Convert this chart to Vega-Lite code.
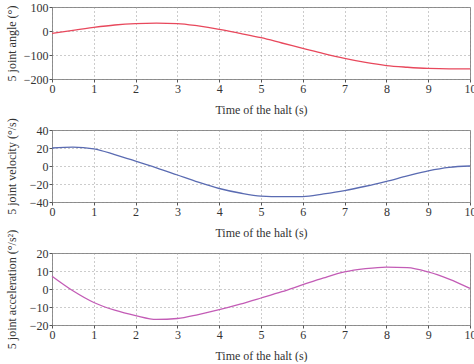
{
  "$schema": "https://vega.github.io/schema/vega-lite/v6.json",
  "padding": {"top": 0, "left": 4, "right": 0, "bottom": 0},
  "background": "white",
  "data": {"values": [
    {"t": 0, "angle": -10, "vel": 20, "acc": 7.1},
    {"t": 0.5, "angle": 3, "vel": 21, "acc": -1},
    {"t": 1, "angle": 15, "vel": 19, "acc": -7.5},
    {"t": 1.5, "angle": 25, "vel": 12.7, "acc": -11.8},
    {"t": 2, "angle": 31, "vel": 5.5, "acc": -14.8},
    {"t": 2.5, "angle": 33, "vel": -2, "acc": -16.9},
    {"t": 3, "angle": 31, "vel": -10, "acc": -16.4},
    {"t": 3.5, "angle": 21, "vel": -18, "acc": -14.2},
    {"t": 4, "angle": 7, "vel": -25, "acc": -11.5},
    {"t": 4.5, "angle": -10, "vel": -30, "acc": -8.4},
    {"t": 5, "angle": -28, "vel": -33.4, "acc": -5},
    {"t": 5.5, "angle": -50, "vel": -34, "acc": -1.5},
    {"t": 6, "angle": -72, "vel": -34, "acc": 2.4},
    {"t": 6.5, "angle": -94, "vel": -31, "acc": 6.2},
    {"t": 7, "angle": -114, "vel": -27.3, "acc": 9.5},
    {"t": 7.5, "angle": -131, "vel": -22.5, "acc": 11.3},
    {"t": 8, "angle": -144, "vel": -17, "acc": 12.2},
    {"t": 8.5, "angle": -151, "vel": -11, "acc": 11.9},
    {"t": 9, "angle": -156, "vel": -5.4, "acc": 9.5},
    {"t": 9.5, "angle": -158, "vel": -1.5, "acc": 5.5},
    {"t": 10, "angle": -158, "vel": 0, "acc": 0.3}
  ]},
  "spacing": 51,
  "bounds": "flush",
  "vconcat": [
    {
      "width": 418, "height": 72,
      "mark": {"type": "line", "color": "#e8485c", "strokeWidth": 1.3, "interpolate": "monotone"},
      "encoding": {
        "x": {"field": "t", "type": "quantitative", "scale": {"domain": [0, 10], "nice": false}, "axis": {"values": [0,1,2,3,4,5,6,7,8,9,10], "title": "Time of the halt (s)"}},
        "y": {"field": "angle", "type": "quantitative", "scale": {"domain": [-200, 100], "nice": false}, "axis": {"values": [-200, -100, 0, 100], "title": "5 joint angle (°)"}}
      }
    },
    {
      "width": 418, "height": 72,
      "mark": {"type": "line", "color": "#5a6bb2", "strokeWidth": 1.3, "interpolate": "monotone"},
      "encoding": {
        "x": {"field": "t", "type": "quantitative", "scale": {"domain": [0, 10], "nice": false}, "axis": {"values": [0,1,2,3,4,5,6,7,8,9,10], "title": "Time of the halt (s)"}},
        "y": {"field": "vel", "type": "quantitative", "scale": {"domain": [-40, 40], "nice": false}, "axis": {"values": [-40, -20, 0, 20, 40], "title": "5 joint velocity (°/s)"}}
      }
    },
    {
      "width": 418, "height": 72,
      "mark": {"type": "line", "color": "#c35cb6", "strokeWidth": 1.3, "interpolate": "monotone"},
      "encoding": {
        "x": {"field": "t", "type": "quantitative", "scale": {"domain": [0, 10], "nice": false}, "axis": {"values": [0,1,2,3,4,5,6,7,8,9,10], "title": "Time of the halt (s)"}},
        "y": {"field": "acc", "type": "quantitative", "scale": {"domain": [-20, 20], "nice": false}, "axis": {"values": [-20, -10, 0, 10, 20], "title": "5 joint acceleration (°/s²)"}}
      }
    }
  ],
  "config": {
    "view": {"stroke": "#8a8a8a", "strokeWidth": 1},
    "axis": {
      "labelFont": "Liberation Serif", "titleFont": "Liberation Serif",
      "labelFontSize": 12, "titleFontSize": 12, "titleFontWeight": "normal",
      "labelColor": "#333", "titleColor": "#333",
      "domain": false, "tickColor": "#555", "tickSize": 3,
      "gridColor": "#999", "gridDash": [1, 3], "gridWidth": 1,
      "labelPadding": 1
    },
    "axisX": {"titlePadding": 10, "labelFlush": false},
    "axisY": {"titleX": -41, "titleBaseline": "middle", "titlePadding": 4, "labelFlush": false}
  }
}
